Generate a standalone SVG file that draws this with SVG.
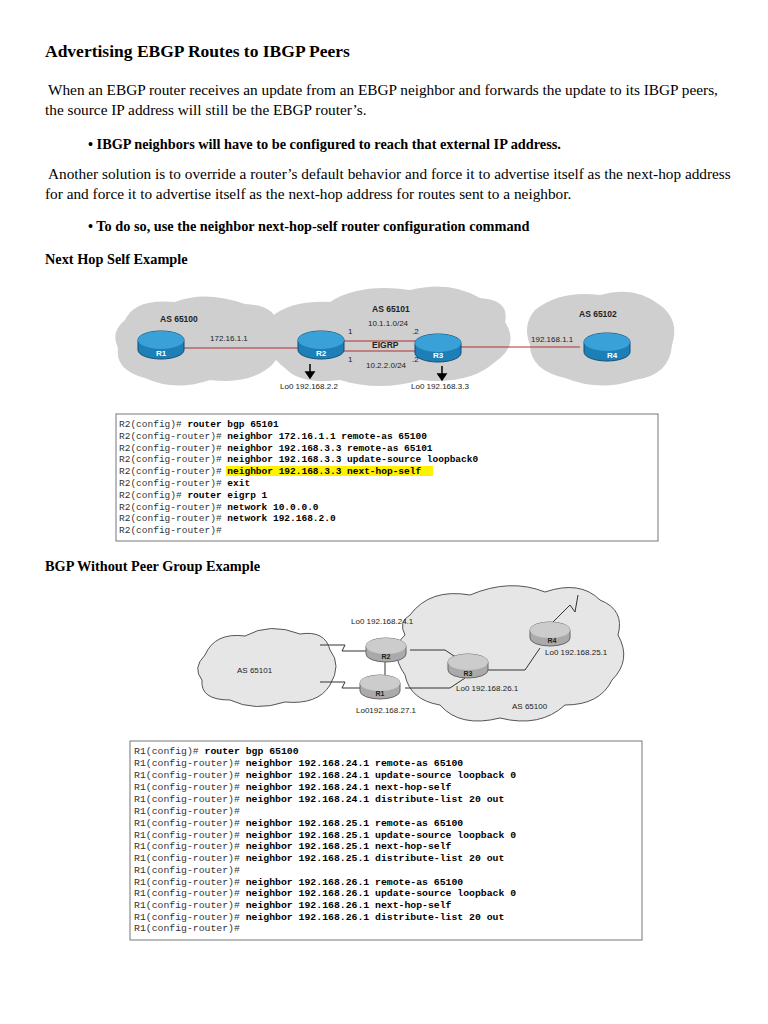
<svg xmlns="http://www.w3.org/2000/svg" width="768" height="1024" viewBox="0 0 768 1024">
<style>
.t{font-family:"Liberation Serif",serif;font-size:15.3px;fill:#000}
.h{font-family:"Liberation Serif",serif;font-size:17.5px;font-weight:bold}
.b{font-family:"Liberation Serif",serif;font-size:14.3px;font-weight:bold}
.s{font-family:"Liberation Sans",sans-serif;font-size:8px;fill:#222}
.sb{font-family:"Liberation Sans",sans-serif;font-size:8.5px;font-weight:bold;fill:#222}
.rl{font-family:"Liberation Sans",sans-serif;font-size:8px;font-weight:bold;fill:#fff}
.gl{font-family:"Liberation Sans",sans-serif;font-size:7px;font-weight:bold;fill:#222}
.c{font-family:"Liberation Mono",monospace;font-size:9.5px;fill:#333}
.c2{font-family:"Liberation Mono",monospace;font-size:9.8px;fill:#333}
.cb{font-weight:bold;fill:#000}
.cloud{fill:#cfcfcf}
.cloud2{fill:#e6e6e6;stroke:#555;stroke-width:1}
.box{fill:#fff;stroke:#777;stroke-width:1}
.rt{fill:#1e7fb6;stroke:#0d4f78}
.gt{fill:#aaa;stroke:#666}
</style>
<text class="h" x="45" y="57">Advertising EBGP Routes to IBGP Peers</text>
<text class="t" x="48" y="95">When an EBGP router receives an update from an EBGP neighbor and forwards the update to its IBGP peers,</text>
<text class="t" x="45" y="115">the source IP address will still be the EBGP router’s.</text>
<text class="b" x="88" y="149">• IBGP neighbors will have to be configured to reach that external IP address.</text>
<text class="t" x="48" y="179">Another solution is to override a router’s default behavior and force it to advertise itself as the next-hop address</text>
<text class="t" x="45" y="199">for and force it to advertise itself as the next-hop address for routes sent to a neighbor.</text>
<text class="b" x="88" y="231">• To do so, use the neighbor next-hop-self router configuration command</text>
<text class="b" x="45" y="264">Next Hop Self Example</text>

<g id="clouds1">
<path class="cloud" d="M125,320 Q135,298 175,302 Q205,290 245,304 Q275,305 278,325 Q290,345 272,365 Q250,385 210,380 Q175,392 145,378 Q115,370 118,348 Q110,332 125,320Z"/>
<path class="cloud" d="M270,318 Q290,300 330,302 Q360,283 410,290 Q450,280 480,298 Q510,300 505,322 Q520,345 495,362 Q470,385 420,380 Q380,392 340,380 Q300,385 285,368 Q260,350 270,318Z"/>
<path class="cloud" d="M535,310 Q560,290 600,295 Q635,285 660,305 Q680,320 672,345 Q670,375 635,380 Q600,392 565,378 Q530,370 530,345 Q522,325 535,310Z"/>
</g>
<g id="links1" stroke="#b03030" stroke-width="1">
<line x1="180" y1="348" x2="300" y2="348"/>
<line x1="335" y1="341" x2="418" y2="341"/>
<line x1="335" y1="351" x2="418" y2="351"/>
<line x1="455" y1="347" x2="580" y2="347"/>
</g>
<g id="r1"><path class="rt" d="M138,340 a23,9 0 0 1 46,0 v10 a23,9 0 0 1 -46,0Z"/><ellipse cx="161" cy="340" rx="23" ry="9" fill="#3aa0d8"/><text class="rl" x="161" y="356" text-anchor="middle">R1</text></g>
<g id="r2"><path class="rt" d="M298,340 a23,9 0 0 1 46,0 v10 a23,9 0 0 1 -46,0Z"/><ellipse cx="321" cy="340" rx="23" ry="9" fill="#3aa0d8"/><text class="rl" x="321" y="356" text-anchor="middle">R2</text></g>
<g id="r3"><path class="rt" d="M415,343 a23,9 0 0 1 46,0 v10 a23,9 0 0 1 -46,0Z"/><ellipse cx="438" cy="343" rx="23" ry="9" fill="#3aa0d8"/><text class="rl" x="438" y="358" text-anchor="middle">R3</text></g>
<g id="r4"><path class="rt" d="M584,342 a23,9 0 0 1 46,0 v10 a23,9 0 0 1 -46,0Z"/><ellipse cx="607" cy="342" rx="23" ry="9" fill="#3aa0d8"/><text class="rl" x="612" y="358" text-anchor="middle">R4</text></g>
<g id="labels1">
<text class="sb" x="160" y="322">AS 65100</text>
<text class="sb" x="372" y="312">AS 65101</text>
<text class="sb" x="579" y="317">AS 65102</text>
<text class="s" x="210" y="341">172.16.1.1</text>
<text class="s" x="368" y="326">10.1.1.0/24</text>
<text class="sb" x="372" y="348">EIGRP</text>
<text class="s" x="366" y="368">10.2.2.0/24</text>
<text class="s" x="348" y="334">1</text><text class="s" x="348" y="362">1</text>
<text class="s" x="412" y="334">.2</text><text class="s" x="412" y="362">.2</text>
<text class="s" x="531" y="342">192.168.1.1</text>
<text class="s" x="280" y="389">Lo0 192.168.2.2</text>
<text class="s" x="411" y="389">Lo0 192.168.3.3</text>
</g>
<g id="arrows1" stroke="#000" stroke-width="1.5" fill="#000">
<line x1="310" y1="364" x2="310" y2="375"/><path d="M306,372 L310,378 L314,372Z"/>
<line x1="442" y1="366" x2="442" y2="377"/><path d="M438,374 L442,380 L446,374Z"/>
</g>

<g id="code1">
<rect class="box" x="116" y="414" width="542" height="127"/>
<rect x="226" y="466" width="207" height="10" fill="#fff200"/>
<text class="c" x="119" y="427">R2(config)# <tspan class="cb">router bgp 65101</tspan></text>
<text class="c" x="119" y="439">R2(config-router)# <tspan class="cb">neighbor 172.16.1.1 remote-as 65100</tspan></text>
<text class="c" x="119" y="451">R2(config-router)# <tspan class="cb">neighbor 192.168.3.3 remote-as 65101</tspan></text>
<text class="c" x="119" y="462">R2(config-router)# <tspan class="cb">neighbor 192.168.3.3 update-source loopback0</tspan></text>
<text class="c" x="119" y="474">R2(config-router)# <tspan class="cb">neighbor 192.168.3.3 next-hop-self</tspan></text>
<text class="c" x="119" y="486">R2(config-router)# <tspan class="cb">exit</tspan></text>
<text class="c" x="119" y="498">R2(config)# <tspan class="cb">router eigrp 1</tspan></text>
<text class="c" x="119" y="510">R2(config-router)# <tspan class="cb">network 10.0.0.0</tspan></text>
<text class="c" x="119" y="521">R2(config-router)# <tspan class="cb">network 192.168.2.0</tspan></text>
<text class="c" x="119" y="533">R2(config-router)#</text>
</g>

<text class="b" x="45" y="571">BGP Without Peer Group Example</text>

<g id="clouds2">
<path class="cloud2" d="M205,655 Q215,632 245,636 Q270,622 300,634 Q325,630 330,650 Q342,665 330,685 Q318,705 285,702 Q255,712 230,700 Q200,700 202,680 Q192,668 205,655Z"/>
<path class="cloud2" d="M410,615 Q430,588 470,595 Q510,578 545,592 Q580,580 600,600 Q625,610 618,635 Q632,660 612,680 Q600,705 565,705 Q540,728 500,718 Q460,728 440,705 Q410,700 405,675 Q388,650 405,635 Q398,622 410,615Z"/>
</g>
<g id="links2" stroke="#333" stroke-width="1" fill="none">
<path d="M320,645 L345,645 L342,651 L370,651"/>
<path d="M320,682 L345,682 L342,688 L360,688"/>
<line x1="385" y1="650" x2="385" y2="683"/>
<path d="M410,650 L445,650 L460,660"/>
<path d="M405,688 L450,688 L465,678"/>
<path d="M488,670 L525,670 L540,648"/>
<path d="M545,630 L570,605 L575,612 L578,595"/>
</g>
<g id="r2b"><path class="gt" d="M366,646 a20,8 0 0 1 40,0 v8 a20,8 0 0 1 -40,0Z"/><ellipse cx="386" cy="646" rx="20" ry="8" fill="#ccc"/><text class="gl" x="386" y="659" text-anchor="middle">R2</text></g>
<g id="r1b"><path class="gt" d="M360,683 a20,8 0 0 1 40,0 v8 a20,8 0 0 1 -40,0Z"/><ellipse cx="380" cy="683" rx="20" ry="8" fill="#ccc"/><text class="gl" x="380" y="696" text-anchor="middle">R1</text></g>
<g id="r3b"><path class="gt" d="M448,662 a20,8 0 0 1 40,0 v8 a20,8 0 0 1 -40,0Z"/><ellipse cx="468" cy="662" rx="20" ry="8" fill="#ccc"/><text class="gl" x="468" y="676" text-anchor="middle">R3</text></g>
<g id="r4b"><path class="gt" d="M530,630 a20,8 0 0 1 40,0 v8 a20,8 0 0 1 -40,0Z"/><ellipse cx="550" cy="630" rx="20" ry="8" fill="#ccc"/><text class="gl" x="552" y="643" text-anchor="middle">R4</text></g>
<g id="labels2">
<text class="s" x="237" y="673" font-size="8.5">AS 65101</text>
<text class="s" x="512" y="709" font-size="9">AS 65100</text>
<text class="s" x="351" y="624" font-size="6">Lo0 192.168.24.1</text>
<text class="s" x="545" y="655" font-size="6">Lo0 192.168.25.1</text>
<text class="s" x="456" y="691" font-size="6.5">Lo0 192.168.26.1</text>
<text class="s" x="356" y="713" font-size="6.5">Lo0192.168.27.1</text>
</g>

<g id="code2">
<rect class="box" x="130" y="741" width="512" height="199"/>
<text class="c2" x="134" y="754">R1(config)# <tspan class="cb">router bgp 65100</tspan></text>
<text class="c2" x="134" y="766">R1(config-router)# <tspan class="cb">neighbor 192.168.24.1 remote-as 65100</tspan></text>
<text class="c2" x="134" y="778">R1(config-router)# <tspan class="cb">neighbor 192.168.24.1 update-source loopback 0</tspan></text>
<text class="c2" x="134" y="790">R1(config-router)# <tspan class="cb">neighbor 192.168.24.1 next-hop-self</tspan></text>
<text class="c2" x="134" y="802">R1(config-router)# <tspan class="cb">neighbor 192.168.24.1 distribute-list 20 out</tspan></text>
<text class="c2" x="134" y="814">R1(config-router)#</text>
<text class="c2" x="134" y="826">R1(config-router)# <tspan class="cb">neighbor 192.168.25.1 remote-as 65100</tspan></text>
<text class="c2" x="134" y="838">R1(config-router)# <tspan class="cb">neighbor 192.168.25.1 update-source loopback 0</tspan></text>
<text class="c2" x="134" y="849">R1(config-router)# <tspan class="cb">neighbor 192.168.25.1 next-hop-self</tspan></text>
<text class="c2" x="134" y="861">R1(config-router)# <tspan class="cb">neighbor 192.168.25.1 distribute-list 20 out</tspan></text>
<text class="c2" x="134" y="873">R1(config-router)#</text>
<text class="c2" x="134" y="885">R1(config-router)# <tspan class="cb">neighbor 192.168.26.1 remote-as 65100</tspan></text>
<text class="c2" x="134" y="896">R1(config-router)# <tspan class="cb">neighbor 192.168.26.1 update-source loopback 0</tspan></text>
<text class="c2" x="134" y="908">R1(config-router)# <tspan class="cb">neighbor 192.168.26.1 next-hop-self</tspan></text>
<text class="c2" x="134" y="920">R1(config-router)# <tspan class="cb">neighbor 192.168.26.1 distribute-list 20 out</tspan></text>
<text class="c2" x="134" y="931">R1(config-router)#</text>
</g>
</svg>
